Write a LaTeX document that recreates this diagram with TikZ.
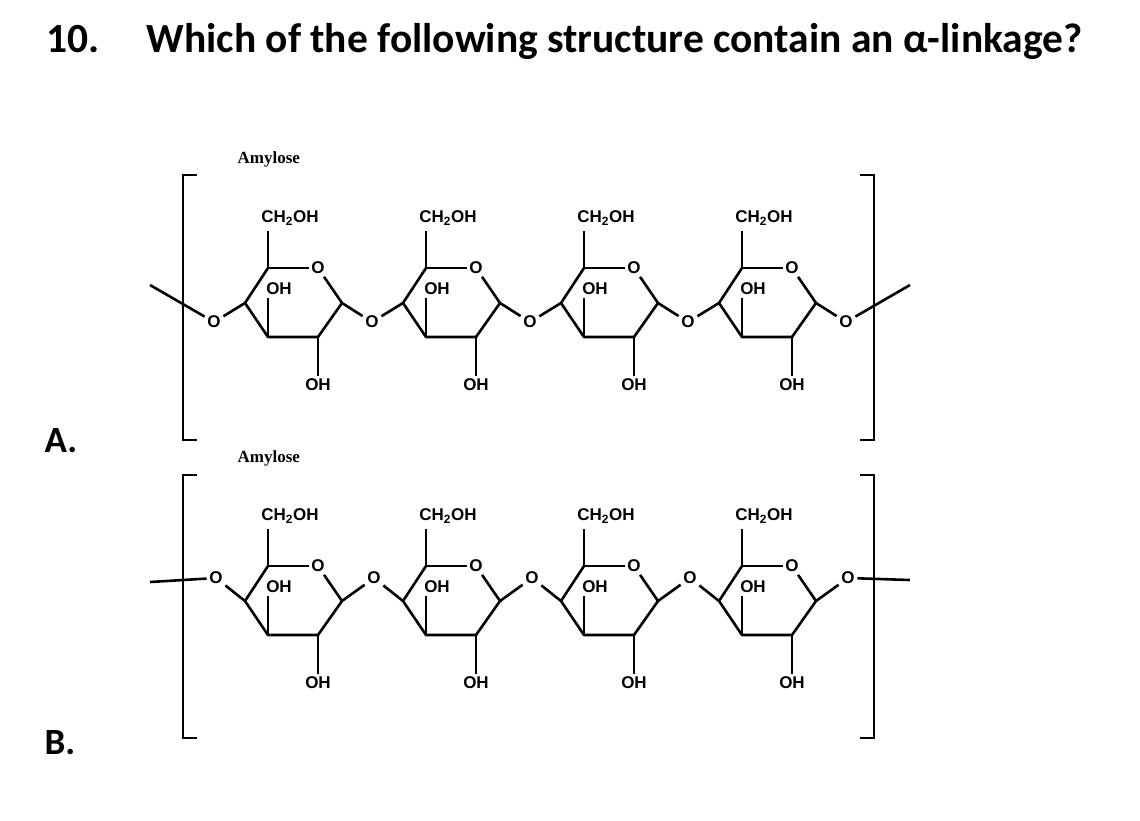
\documentclass[tikz,border=0pt]{standalone}
\usepackage{fontspec}
\setmainfont{Liberation Sans}
\newfontfamily\titlefont{Carlito}
\newfontfamily\serifbold{Liberation Serif}
\begin{document}
\begin{tikzpicture}[x=1pt,y=-1pt,line width=2.6pt,
  atom/.style={font=\fontsize{17}{17}\selectfont\bfseries,inner sep=1.5pt},
  bond/.style={line width=2.6pt,line join=round},
  ring/.pic={
    \coordinate (-c5) at (0,0);
    \node[atom] (-o) at (50,0) {O};
    \coordinate (-c1) at (74,35);
    \coordinate (-c2) at (50,69);
    \coordinate (-c3) at (0,69);
    \coordinate (-c4) at (-23,35);
    \node[atom] (-ch) at (22,-50) {CH\textsubscript{2}OH};
    \coordinate (-chb) at (0,-37);
    \node[atom] (-oh3) at (11,21) {OH};
    \coordinate (-oh3b) at (0,30);
    \node[atom] (-oh2) at (50,117) {OH};
    \draw[bond] (-chb) -- (-c5);
    \draw[bond] (-c5) -- (-o);
    \draw[bond] (-o) -- (-c1);
    \draw[bond] (-c1) -- (-c2) -- (-c3) -- (-c4) -- (-c5);
    \draw[bond] (-c3) -- (-oh3b);
    \draw[bond] (-c2) -- (-oh2);
  }]
\useasboundingbox (0,0) rectangle (1140,820);
\node[font=\titlefont\bfseries\fontsize{41.5}{41.5}\selectfont,anchor=base west] (num) at (42,52) {10.};
\node[font=\titlefont\bfseries\fontsize{41.5}{41.5}\selectfont,anchor=base west] (title) at (142,52) {Which of the following structure contain an α-linkage?};
\node[font=\titlefont\bfseries\fontsize{37}{37}\selectfont,anchor=base west] (la) at (40,452) {A.};
\node[font=\titlefont\bfseries\fontsize{37}{37}\selectfont,anchor=base west] (lb) at (40,754) {B.};
\node[font=\serifbold\bfseries\fontsize{17}{17}\selectfont,anchor=base west] (am1) at (233,163) {Amylose};
\node[font=\serifbold\bfseries\fontsize{17}{17}\selectfont,anchor=base west] (am2) at (233,462) {Amylose};
% brackets
\draw[line width=2.2pt] (197,175) -- (183,175) -- (183,440) -- (197,440);
\draw[line width=2.2pt] (860,175) -- (874,175) -- (874,440) -- (860,440);
\draw[line width=2.2pt] (197,475) -- (183,475) -- (183,738) -- (197,738);
\draw[line width=2.2pt] (860,475) -- (874,475) -- (874,738) -- (860,738);
% A chain
\foreach \i in {0,1,2,3} \pic (a\i) at (268+158*\i,268) {ring};
\node[atom] (ga0) at (214,322) {O};
\foreach \i in {1,2,3} \node[atom] (ga\i) at (214+158*\i,322) {O};
\node[atom] (ga4) at (846,322) {O};
\coordinate (ea0) at (150,285);
\coordinate (ea4) at (910,285);
\draw[bond] (ea0) -- (ga0) -- (a0-c4);
\draw[bond] (a0-c1) -- (ga1) -- (a1-c4);
\draw[bond] (a1-c1) -- (ga2) -- (a2-c4);
\draw[bond] (a2-c1) -- (ga3) -- (a3-c4);
\draw[bond] (a3-c1) -- (ga4) -- (ea4);
% B chain
\foreach \i in {0,1,2,3} \pic (b\i) at (268+158*\i,566) {ring};
\node[atom] (gb0) at (216,578) {O};
\foreach \i in {1,2,3} \node[atom] (gb\i) at (216+158*\i,578) {O};
\node[atom] (gb4) at (848,578) {O};
\coordinate (eb0) at (150,582);
\coordinate (eb4) at (910,580);
\draw[bond] (eb0) -- (gb0) -- (b0-c4);
\draw[bond] (b0-c1) -- (gb1) -- (b1-c4);
\draw[bond] (b1-c1) -- (gb2) -- (b2-c4);
\draw[bond] (b2-c1) -- (gb3) -- (b3-c4);
\draw[bond] (b3-c1) -- (gb4) -- (eb4);
\end{tikzpicture}
\end{document}
